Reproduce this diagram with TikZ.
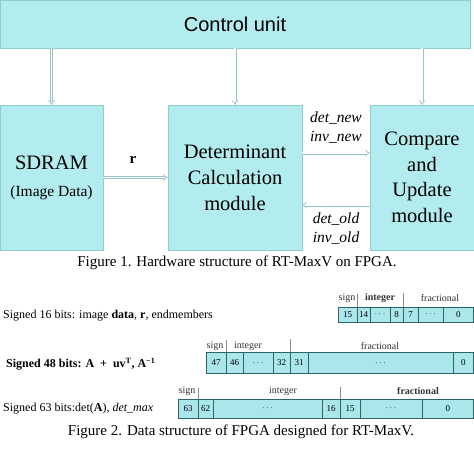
\documentclass[tikz,border=0pt]{standalone}
\usepackage{fontspec}
\setmainfont{Liberation Serif}
\setsansfont{Liberation Sans}
\usetikzlibrary{arrows.meta,positioning}
\definecolor{boxcyan}{RGB}{178,236,238}
\definecolor{boxedge}{RGB}{140,205,210}
\definecolor{buscolor}{RGB}{150,196,202}
\definecolor{cellcyan}{RGB}{170,230,234}
\definecolor{celledge}{RGB}{45,100,104}
\tikzset{
  bloque/.style={
    draw=boxedge,
    fill=boxcyan,
    align=center,
    inner sep=0pt,
    font=\fontsize{20.5}{26}\selectfont
  },
  bus/.style={
    draw=buscolor,
    double=white,
    double distance=1.6pt,
    line width=.7pt,
    -{Implies}
  },
  senal/.style={
    inner sep=0pt,
    font=\fontsize{15.5}{19}\selectfont\itshape
  },
  campo/.style={
    inner sep=0pt,
    text=black!80,
    font=\fontsize{10}{12}\selectfont
  },
  celda/.style={
    draw=celledge,
    fill=cellcyan,
    line width=.6pt,
    inner sep=0pt,
    font=\fontsize{9}{10}\selectfont
  },
  fila/.style={
    anchor=west,
    inner sep=0pt,
    font=\fontsize{12}{14}\selectfont
  },
  pie/.style={
    inner sep=0pt,
    font=\fontsize{15}{18}\selectfont
  },
  divisor/.style={
    draw=black!45,
    line width=.4pt
  }
}

\begin{document}
\begin{tikzpicture}[x=1pt,y=-1pt]
\useasboundingbox (0,0) rectangle (474,455);
% figure 1
\node[bloque,minimum width=470pt,minimum height=48pt,font=\fontsize{20}{24}\selectfont\sffamily] (ctrl) at (235,24) {Control unit};
\node[bloque,minimum width=103pt,minimum height=145pt] (sdram) at (51.5,177.5) {SDRAM\\[1pt]{\fontsize{15.5}{18}\selectfont (Image Data)}};
\node[bloque,minimum width=134pt,minimum height=145pt] (det) at (235,177.5) {Determinant\\Calculation\\module};
\node[bloque,minimum width=104pt,minimum height=145pt,font=\fontsize{20.5}{25.5}\selectfont] (cmp) at (422,177.5) {Compare\\and\\Update\\module};
\draw[bus] (ctrl.south -| sdram.north) -- (sdram.north);
\draw[bus] (ctrl.south -| det.north) -- (det.north);
\draw[bus] (ctrl.south -| cmp.north) -- (cmp.north);
\draw[bus] (sdram.east) -- (det.west);
\node[font=\fontsize{15}{18}\selectfont\bfseries,inner sep=0pt] (r) at (133,160) {r};
\draw[bus] ([yshift=24.5pt]det.east) -- ([yshift=24.5pt]cmp.west);
\draw[bus] ([yshift=-27.5pt]cmp.west) -- ([yshift=-27.5pt]det.west -| det.east);
\node[senal] (detnew) at (336,118) {det\_new};
\node[senal] (invnew) at (336,137) {inv\_new};
\node[senal] (detold) at (336,219) {det\_old};
\node[senal] (invold) at (336,238) {inv\_old};
\node[pie] (cap1) at (237,263) {Figure 1. Hardware structure of RT-MaxV on FPGA.};
% figure 2
\node[fila] (f16) at (3,316) {Signed 16 bits: image \textbf{data}, \textbf{r}, endmembers};
\node[fila,font=\fontsize{12}{14}\selectfont\bfseries] (f48) at (6,364) {Signed 48 bits: A \ + \ uv\textsuperscript{T}, A\textsuperscript{−1}};
\node[fila] (f63) at (3,409) {Signed 63 bits:det(\textbf{A}), \textit{det\_max}};
\foreach \a/\b/\t [count=\i] in {338/357/15,357/370/14,370/390/$\cdots$,390/403/8,403/418/7,418/443/$\cdots$,443/473.5/0}{
  \pgfmathsetmacro\w{\b-\a}
  \pgfmathsetmacro\m{(\a+\b)/2}
  \node[celda,minimum width=\w pt,minimum height=15pt] (u\i) at (\m,314.5) {\t};
}
\foreach \a/\b/\t [count=\i] in {206/226/47,226/243/46,243/273/$\cdots$,273/290/32,290/308/31,308/453/$\cdots$,453/473.5/0}{
  \pgfmathsetmacro\w{\b-\a}
  \pgfmathsetmacro\m{(\a+\b)/2}
  \node[celda,minimum width=\w pt,minimum height=21pt] (v\i) at (\m,363) {\t};
}
\foreach \a/\b/\t [count=\i] in {178/198/63,198/213/62,213/322/$\cdots$,322/340/16,340/360/15,360/422/$\cdots$,422/473.5/0}{
  \pgfmathsetmacro\w{\b-\a}
  \pgfmathsetmacro\m{(\a+\b)/2}
  \node[celda,minimum width=\w pt,minimum height=19pt] (w\i) at (\m,408.5) {\t};
}
% field labels
\node[campo] (us) at (347,298) {sign};
\node[campo,font=\fontsize{10}{12}\selectfont\bfseries] (ui) at (380,298) {integer};
\node[campo] (uf) at (440,298) {fractional};
\draw[divisor] (u1.north east) -- ++(0,-13);
\draw[divisor] (u4.north east) -- ++(0,-14);
\node[campo] (vs) at (215,346) {sign};
\node[campo] (vi) at (248,346) {integer};
\node[campo] (vf) at (380,346) {fractional};
\draw[divisor] (v1.north east) -- ++(0,-12);
\draw[divisor] (v4.north east) -- ++(0,-13);
\node[campo] (ws) at (187,391) {sign};
\node[campo] (wi) at (283,391) {integer};
\node[campo,font=\fontsize{10}{12}\selectfont\bfseries] (wf) at (418,391) {fractional};
\draw[divisor] (w1.north east) -- ++(0,-11);
\draw[divisor] (w4.north east) -- ++(0,-12);
\node[pie] (cap2) at (241,432) {Figure 2. Data structure of FPGA designed for RT-MaxV.};
\end{tikzpicture}
\end{document}
